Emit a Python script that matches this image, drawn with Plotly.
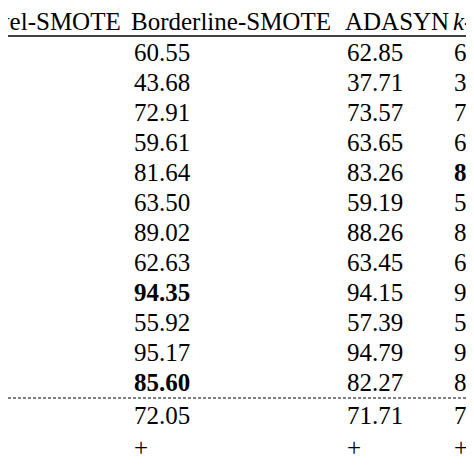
import plotly.graph_objects as go

W = H = 474
headers = ["Safe-Level-SMOTE", "Borderline-SMOTE", "ADASYN", "k-means SMOTE"]
borderline = ["60.55", "43.68", "72.91", "59.61", "81.64", "63.50", "89.02", "62.63", "94.35", "55.92", "95.17", "85.60"]
adasyn = ["62.85", "37.71", "73.57", "63.65", "83.26", "59.19", "88.26", "63.45", "94.15", "57.39", "94.79", "82.27"]
kmeans = ["64.", "38.", "75.", "62.", "84.", "54.", "88.", "62.", "91.", "58.", "95.", "83."]
borderline_bold = [8, 11]
adasyn_bold = []
kmeans_bold = [4]
mean_row = ["72.05", "71.71", "71."]
sign_row = ["+", "+", "+"]

FONT = dict(family="Liberation Serif", size=25, color="black")
fig = go.Figure()
fig.update_layout(width=W, height=H, margin=dict(l=0, r=0, t=0, b=0),
                  paper_bgcolor="white", plot_bgcolor="white",
                  xaxis=dict(visible=False, range=[0, W]),
                  yaxis=dict(visible=False, range=[H, 0]))

def txt(x, y, s, anchor="left", bold=False):
    fig.add_annotation(x=x, y=y, xref="x", yref="y", text=f"<b>{s}</b>" if bold else s,
                       showarrow=False, xanchor=anchor, yanchor="middle", font=FONT,
                       borderpad=0)

colx = [125, 338, 445]
txt(114, 13, headers[0], anchor="right")
txt(122, 13, headers[1])
txt(336, 13, headers[2])
txt(444, 13, "<i>k</i>-means")

y0, dy = 44, 30.0
cols = [(borderline, borderline_bold), (adasyn, adasyn_bold), (kmeans, kmeans_bold)]
for ci, (vals, bolds) in enumerate(cols):
    for i, v in enumerate(vals):
        txt(colx[ci], y0 + i * dy, v, bold=(i in bolds))
last = y0 + 11 * dy
for ci in range(3):
    txt(colx[ci], last + 33, mean_row[ci])
    txt(colx[ci], last + 65, sign_row[ci])

fig.add_shape(type="line", x0=0, x1=W, y0=28, y1=28, xref="x", yref="y", line=dict(color="black", width=1.5))
fig.add_shape(type="line", x0=0, x1=W, y0=last + 16, y1=last + 16, xref="x", yref="y", line=dict(color="black", width=1.2, dash="3px,2px"))
fig.write_html("out.html")
